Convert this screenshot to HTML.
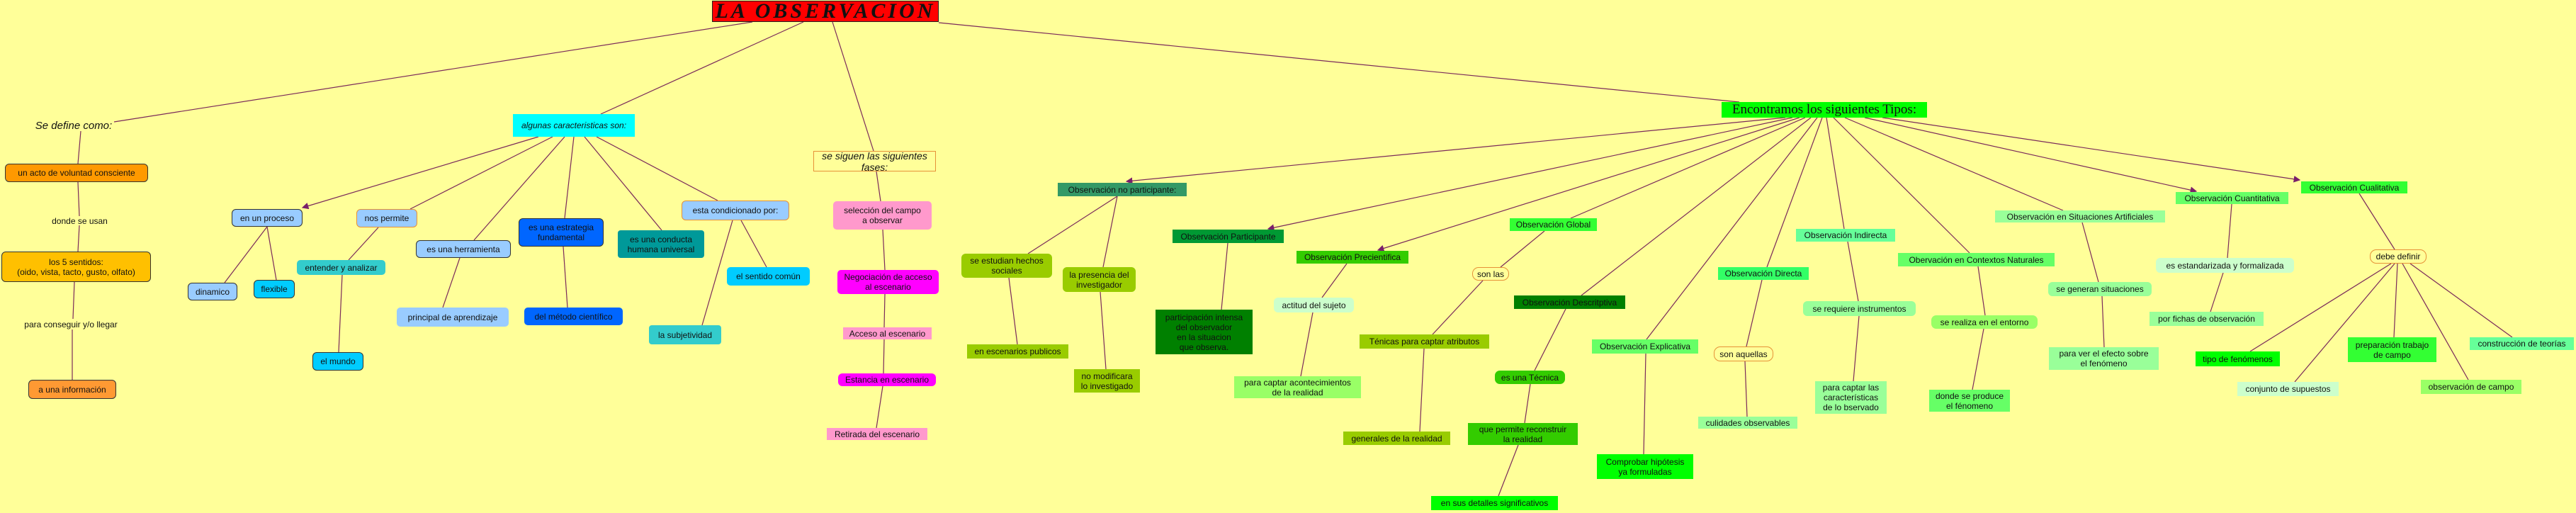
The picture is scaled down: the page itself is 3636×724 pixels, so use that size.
<!DOCTYPE html>
<html><head><meta charset="utf-8">
<style>
html,body{margin:0;padding:0;}
body{width:3636px;height:724px;background:#ffff99;position:relative;overflow:hidden;font-family:"Liberation Sans",sans-serif;font-size:12px;color:#111;}
.n{position:absolute;display:flex;align-items:center;justify-content:center;text-align:center;line-height:14px;box-sizing:border-box;white-space:nowrap;}
.r{border-radius:6px;border:1px solid #333;}
.o{border:1px solid #e69138;}
.t{background:transparent;}
svg{position:absolute;left:0;top:0;}
</style></head><body>
<svg width="3636" height="724">
<defs><marker id="a" markerWidth="8" markerHeight="8" refX="7" refY="4" orient="auto"><path d="M0,0 L8,4 L0,8 z" fill="#7a1f6a"/></marker></defs>
<g stroke="#7a2a5a" stroke-width="1.2" fill="none">
<line x1="1062" y1="31" x2="161" y2="172"/>
<line x1="1134" y1="31" x2="848" y2="161"/>
<line x1="1175" y1="31" x2="1233" y2="213"/>
<line x1="1325" y1="32" x2="2455" y2="144"/>
<line x1="114" y1="185" x2="110" y2="231"/>
<line x1="110" y1="257" x2="112" y2="305"/>
<line x1="112" y1="318" x2="110" y2="355"/>
<line x1="105" y1="398" x2="103" y2="450"/>
<line x1="102" y1="465" x2="102" y2="536"/>
<line x1="760" y1="193" x2="427" y2="293" marker-end="url(#a)"/>
<line x1="780" y1="193" x2="579" y2="295"/>
<line x1="797" y1="193" x2="669" y2="339"/>
<line x1="810" y1="193" x2="797" y2="308"/>
<line x1="825" y1="193" x2="934" y2="325"/>
<line x1="842" y1="193" x2="1013" y2="283"/>
<line x1="377" y1="320" x2="317" y2="399"/>
<line x1="377" y1="320" x2="390" y2="395"/>
<line x1="534" y1="321" x2="492" y2="367"/>
<line x1="483" y1="388" x2="478" y2="497"/>
<line x1="649" y1="364" x2="625" y2="434"/>
<line x1="795" y1="348" x2="801" y2="434"/>
<line x1="1034" y1="311" x2="991" y2="459"/>
<line x1="1046" y1="311" x2="1082" y2="377"/>
<line x1="1237" y1="242" x2="1243" y2="284"/>
<line x1="1246" y1="324" x2="1249" y2="381"/>
<line x1="1249" y1="415" x2="1248" y2="462"/>
<line x1="1248" y1="479" x2="1247" y2="527"/>
<line x1="1246" y1="545" x2="1237" y2="604"/>
<line x1="2520" y1="166" x2="1590" y2="256" marker-end="url(#a)"/>
<line x1="2530" y1="166" x2="1790" y2="323" marker-end="url(#a)"/>
<line x1="2540" y1="166" x2="1945" y2="353" marker-end="url(#a)"/>
<line x1="2548" y1="166" x2="2217" y2="308"/>
<line x1="2556" y1="166" x2="2232" y2="417"/>
<line x1="2565" y1="166" x2="2324" y2="479"/>
<line x1="2572" y1="166" x2="2494" y2="377"/>
<line x1="2578" y1="166" x2="2603" y2="323"/>
<line x1="2588" y1="166" x2="2780" y2="357"/>
<line x1="2604" y1="166" x2="2912" y2="297"/>
<line x1="2632" y1="166" x2="3100" y2="270" marker-end="url(#a)"/>
<line x1="2657" y1="166" x2="3246" y2="254" marker-end="url(#a)"/>
<line x1="1577" y1="277" x2="1451" y2="358"/>
<line x1="1577" y1="277" x2="1557" y2="377"/>
<line x1="1424" y1="392" x2="1436" y2="486"/>
<line x1="1553" y1="412" x2="1561" y2="521"/>
<line x1="1733" y1="343" x2="1724" y2="437"/>
<line x1="1901" y1="372" x2="1866" y2="420"/>
<line x1="1853" y1="441" x2="1836" y2="531"/>
<line x1="2180" y1="326" x2="2118" y2="377"/>
<line x1="2093" y1="396" x2="2022" y2="472"/>
<line x1="2010" y1="492" x2="2004" y2="609"/>
<line x1="2210" y1="436" x2="2166" y2="523"/>
<line x1="2160" y1="542" x2="2152" y2="597"/>
<line x1="2143" y1="628" x2="2115" y2="700"/>
<line x1="2323" y1="499" x2="2320" y2="641"/>
<line x1="2487" y1="395" x2="2465" y2="489"/>
<line x1="2463" y1="510" x2="2466" y2="588"/>
<line x1="2608" y1="341" x2="2623" y2="425"/>
<line x1="2624" y1="446" x2="2616" y2="538"/>
<line x1="2792" y1="376" x2="2802" y2="445"/>
<line x1="2800" y1="464" x2="2784" y2="550"/>
<line x1="2939" y1="314" x2="2962" y2="398"/>
<line x1="2967" y1="418" x2="2970" y2="490"/>
<line x1="3150" y1="288" x2="3144" y2="364"/>
<line x1="3138" y1="385" x2="3120" y2="440"/>
<line x1="3330" y1="273" x2="3380" y2="352"/>
<line x1="3375" y1="372" x2="3176" y2="496"/>
<line x1="3380" y1="372" x2="3239" y2="539"/>
<line x1="3384" y1="372" x2="3379" y2="476"/>
<line x1="3391" y1="372" x2="3484" y2="536"/>
<line x1="3402" y1="372" x2="3546" y2="476"/>
</g></svg>

<div class="n" style="left:1005px;top:1px;width:320px;height:30px;background:#ff0000;border:1px solid #222;font-family:'Liberation Serif',serif;font-style:italic;font-weight:bold;font-size:30px;letter-spacing:4px;">LA OBSERVACION</div>

<div class="n t" style="left:44px;top:168px;width:120px;height:20px;font-style:italic;font-size:15px;">Se define como:</div>
<div class="n r" style="left:7px;top:231px;width:202px;height:26px;background:#ff9900;">un acto de voluntad consciente</div>
<div class="n t" style="left:60px;top:304px;width:105px;height:16px;">donde se usan</div>
<div class="n r" style="left:2px;top:355px;width:211px;height:43px;background:#ffc000;">los 5 sentidos:<br>(oido, vista, tacto, gusto, olfato)</div>
<div class="n t" style="left:20px;top:450px;width:160px;height:16px;">para conseguir y/o llegar</div>
<div class="n r" style="left:40px;top:536px;width:124px;height:27px;background:#ff9933;">a una información</div>

<div class="n" style="left:724px;top:161px;width:172px;height:32px;background:#00ffff;font-style:italic;">algunas caracteristicas son:</div>
<div class="n r" style="left:327px;top:295px;width:100px;height:25px;background:#99ccff;">en un proceso</div>
<div class="n r o" style="left:503px;top:295px;width:86px;height:26px;background:#99ccff;">nos permite</div>
<div class="n r" style="left:587px;top:339px;width:134px;height:25px;background:#99ccff;">es una herramienta</div>
<div class="n r" style="left:732px;top:308px;width:120px;height:40px;background:#0066ff;">es una estrategia<br>fundamental</div>
<div class="n" style="left:872px;top:325px;width:122px;height:39px;background:#009999;border-radius:4px;">es una conducta<br>humana universal</div>
<div class="n r o" style="left:962px;top:283px;width:152px;height:28px;background:#99ccff;">esta condicionado por:</div>
<div class="n r" style="left:265px;top:399px;width:70px;height:25px;background:#99ccff;">dinamico</div>
<div class="n r" style="left:358px;top:395px;width:58px;height:26px;background:#00ccff;">flexible</div>
<div class="n" style="left:419px;top:367px;width:125px;height:21px;background:#33cccc;border-radius:5px;">entender y analizar</div>
<div class="n r" style="left:441px;top:497px;width:72px;height:26px;background:#00ccff;">el mundo</div>
<div class="n" style="left:560px;top:434px;width:158px;height:27px;background:#99ccff;border-radius:5px;">principal de aprendizaje</div>
<div class="n" style="left:740px;top:434px;width:139px;height:25px;background:#0066ff;border-radius:5px;">del método científico</div>
<div class="n" style="left:1026px;top:377px;width:117px;height:26px;background:#00ccff;border-radius:5px;">el sentido común</div>
<div class="n" style="left:916px;top:459px;width:102px;height:27px;background:#33cccc;border-radius:4px;">la subjetividad</div>

<div class="n o" style="left:1148px;top:213px;width:173px;height:29px;font-style:italic;font-size:14px;line-height:16px;">se siguen las siguientes<br>fases:</div>
<div class="n" style="left:1176px;top:284px;width:139px;height:40px;background:#ff99cc;border-radius:5px;">selección del campo<br>a observar</div>
<div class="n" style="left:1182px;top:381px;width:143px;height:34px;background:#ff00ff;border-radius:5px;">Negociación de acceso<br>al escenario</div>
<div class="n" style="left:1190px;top:462px;width:125px;height:17px;background:#ff99cc;">Acceso al escenario</div>
<div class="n" style="left:1183px;top:527px;width:138px;height:18px;background:#ff00ff;border-radius:6px;">Estancia en escenario</div>
<div class="n" style="left:1167px;top:604px;width:142px;height:17px;background:#ff99cc;">Retirada del escenario</div>

<div class="n" style="left:2430px;top:144px;width:290px;height:22px;background:#00ff00;font-family:'Liberation Serif',serif;font-size:19px;">Encontramos los siguientes Tipos:</div>

<div class="n" style="left:1493px;top:258px;width:182px;height:19px;background:#339966;">Observación no participante:</div>
<div class="n" style="left:1357px;top:358px;width:128px;height:34px;background:#99cc00;border-radius:6px;">se estudian hechos<br>sociales</div>
<div class="n" style="left:1500px;top:377px;width:103px;height:35px;background:#99cc00;border-radius:6px;">la presencia del<br>investigador</div>
<div class="n" style="left:1365px;top:486px;width:143px;height:20px;background:#99cc00;">en escenarios publicos</div>
<div class="n" style="left:1516px;top:521px;width:93px;height:33px;background:#99cc00;">no modificara<br>lo investigado</div>
<div class="n" style="left:1655px;top:324px;width:157px;height:19px;background:#009933;">Observación Participante</div>
<div class="n" style="left:1631px;top:437px;width:137px;height:63px;background:#008000;">participación intensa<br>del observador<br>en la situacion<br>que observa.</div>
<div class="n" style="left:1830px;top:354px;width:158px;height:18px;background:#33cc00;">Observación Precientifica</div>
<div class="n" style="left:1798px;top:420px;width:113px;height:21px;background:#ccffcc;border-radius:6px;">actitud del sujeto</div>
<div class="n" style="left:1742px;top:531px;width:179px;height:31px;background:#99ff66;">para captar acontecimientos<br>de la realidad</div>
<div class="n" style="left:2131px;top:308px;width:123px;height:18px;background:#33ff33;">Observación Global</div>
<div class="n r o" style="left:2078px;top:377px;width:52px;height:19px;background:#ffff99;border-radius:9px;">son las</div>
<div class="n" style="left:1919px;top:472px;width:183px;height:20px;background:#99cc00;">Ténicas para captar atributos</div>
<div class="n" style="left:1896px;top:609px;width:151px;height:19px;background:#99cc00;">generales de la realidad</div>
<div class="n" style="left:2137px;top:417px;width:157px;height:19px;background:#008000;">Observación Descritptiva</div>
<div class="n" style="left:2110px;top:523px;width:99px;height:19px;background:#33cc00;border-radius:7px;">es una Técnica</div>
<div class="n" style="left:2072px;top:597px;width:155px;height:31px;background:#33cc00;">que permite reconstruir<br>la realidad</div>
<div class="n" style="left:2020px;top:700px;width:179px;height:20px;background:#00ff00;">en sus detalles significativos</div>
<div class="n" style="left:2247px;top:479px;width:150px;height:20px;background:#66ff66;">Observación Explicativa</div>
<div class="n" style="left:2254px;top:641px;width:136px;height:35px;background:#00ff00;">Comprobar hipótesis<br>ya formuladas</div>

<div class="n" style="left:2425px;top:377px;width:128px;height:18px;background:#33ff66;">Observación Directa</div>
<div class="n r o" style="left:2419px;top:489px;width:84px;height:21px;background:#ffff99;border-radius:9px;">son aquellas</div>
<div class="n" style="left:2397px;top:588px;width:140px;height:17px;background:#99ff99;">culidades observables</div>
<div class="n" style="left:2535px;top:323px;width:140px;height:18px;background:#66ff99;">Observación Indirecta</div>
<div class="n" style="left:2545px;top:425px;width:159px;height:21px;background:#99ff99;border-radius:6px;">se requiere instrumentos</div>
<div class="n" style="left:2562px;top:538px;width:101px;height:46px;background:#99ff99;">para captar las<br>características<br>de lo bservado</div>
<div class="n" style="left:2679px;top:357px;width:221px;height:19px;background:#66ff66;">Obervación en Contextos Naturales</div>
<div class="n" style="left:2726px;top:445px;width:150px;height:19px;background:#99ff66;border-radius:7px;">se realiza en el entorno</div>
<div class="n" style="left:2723px;top:550px;width:114px;height:31px;background:#66ff66;">donde se produce<br>el fénomeno</div>
<div class="n" style="left:2816px;top:297px;width:240px;height:17px;background:#99ff99;">Observación en Situaciones Artificiales</div>
<div class="n" style="left:2891px;top:398px;width:146px;height:20px;background:#99ff99;border-radius:6px;">se generan situaciones</div>
<div class="n" style="left:2892px;top:490px;width:155px;height:32px;background:#99ff99;">para ver el efecto sobre<br>el fenómeno</div>
<div class="n" style="left:3071px;top:271px;width:159px;height:17px;background:#66ff66;">Observación Cuantitativa</div>
<div class="n" style="left:3043px;top:364px;width:195px;height:21px;background:#ccffcc;border-radius:6px;">es estandarizada y formalizada</div>
<div class="n" style="left:3034px;top:440px;width:161px;height:20px;background:#99ff99;">por fichas de observación</div>
<div class="n" style="left:3248px;top:256px;width:150px;height:17px;background:#33ff33;">Observación Cualitativa</div>
<div class="n r o" style="left:3345px;top:352px;width:80px;height:20px;background:#ffff99;border-radius:9px;">debe definir</div>
<div class="n" style="left:3099px;top:496px;width:119px;height:21px;background:#00ff00;">tipo de fenómenos</div>
<div class="n" style="left:3158px;top:539px;width:143px;height:20px;background:#ccffcc;">conjunto de supuestos</div>
<div class="n" style="left:3314px;top:476px;width:125px;height:35px;background:#33ff33;">preparación trabajo<br>de campo</div>
<div class="n" style="left:3417px;top:536px;width:142px;height:20px;background:#99ff66;">observación de campo</div>
<div class="n" style="left:3486px;top:476px;width:147px;height:18px;background:#66ff99;">construcción de teorías</div>
</body></html>
